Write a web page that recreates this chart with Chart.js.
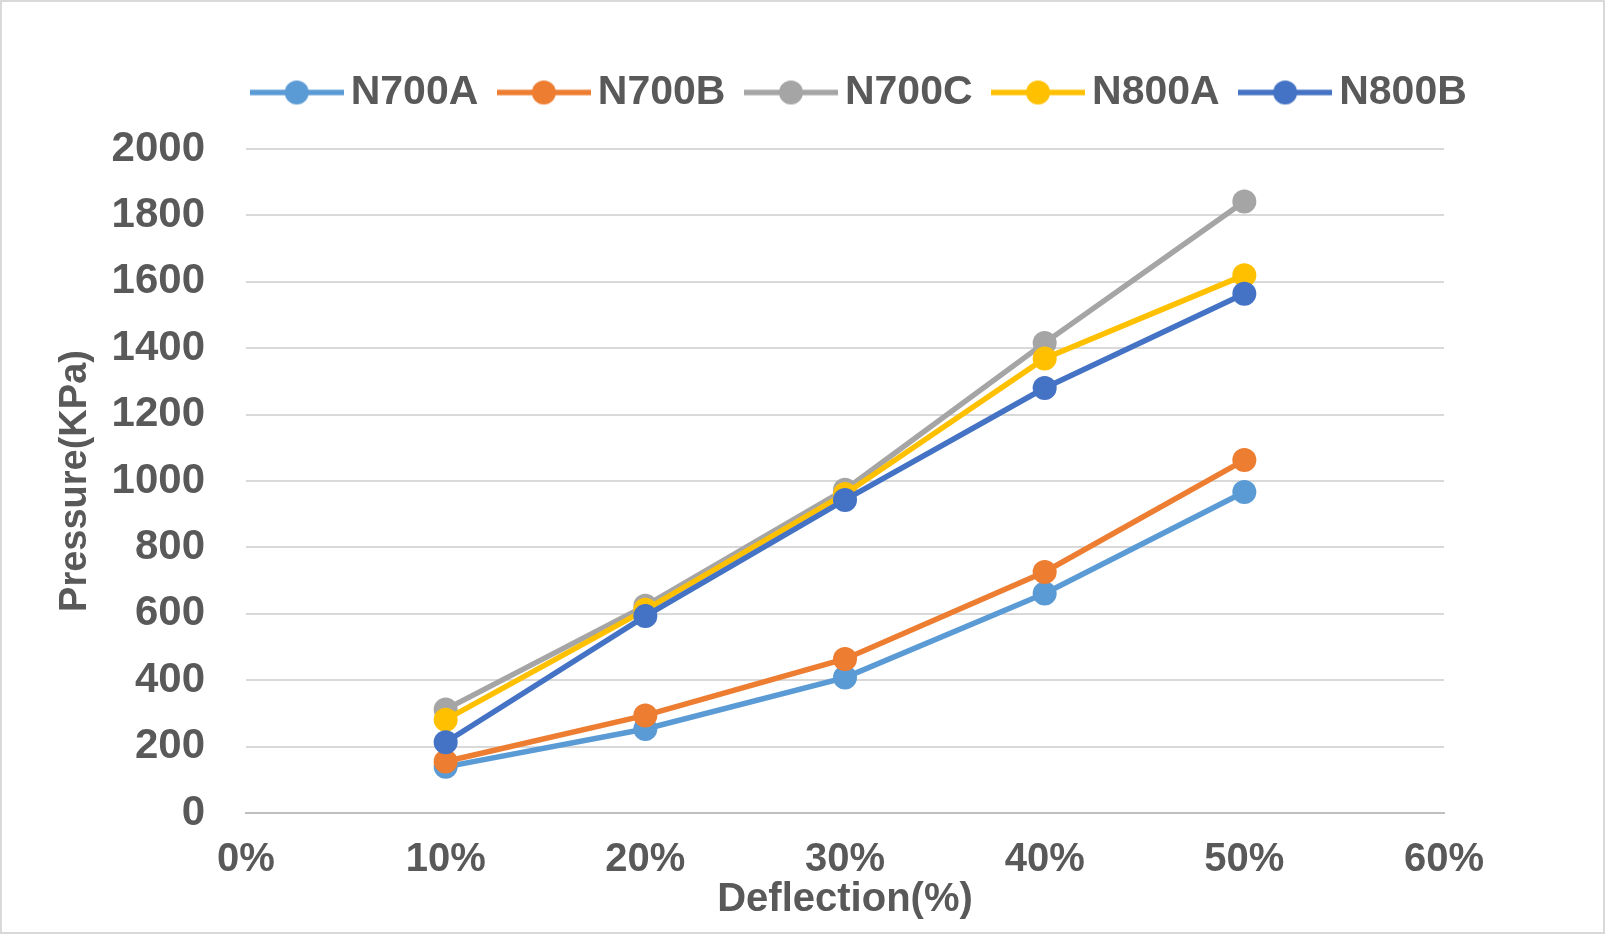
<!DOCTYPE html>
<html>
<head>
<meta charset="utf-8">
<script src="https://cdn.jsdelivr.net/npm/chart.js@4.4.1/dist/chart.umd.min.js"></script>
<style>
  html, body { margin: 0; padding: 0; background: #fff; }
  #wrap { position: relative; width: 1605px; height: 934px; }
  #frame { position: absolute; left: 0; top: 0; right: 0; bottom: 0; border: 2px solid #d9d9d9; pointer-events: none; }
</style>
</head>
<body>
<div id="wrap">
  <canvas id="chart"></canvas>
  <div id="frame"></div>
</div>
<script>
// deflection in %, pressure in KPa
const deflection = [10, 20, 30, 40, 50];
const seriesNames = ['N700A', 'N700B', 'N700C', 'N800A', 'N800B'];
const n700a = [139, 253, 408, 661, 967];
const n700b = [155, 294, 464, 726, 1063];
const n700c = [312, 624, 974, 1416, 1842];
const n800a = [281, 612, 961, 1369, 1620];
const n800b = [213, 593, 943, 1280, 1564];
const colors = ['#5B9BD5', '#ED7D31', '#A5A5A5', '#FFC000', '#4472C4'];

const FONT = '"Liberation Sans", Arial, sans-serif';
const TXT = '#595959';

// legend swatch: line with a dot, like the excel one
function legendMark(color) {
  const c = document.createElement('canvas');
  c.width = 94; c.height = 26;
  const g = c.getContext('2d');
  g.strokeStyle = color;
  g.lineWidth = 5.5;
  g.beginPath(); g.moveTo(0, 13); g.lineTo(94, 13); g.stroke();
  g.fillStyle = color;
  g.beginPath(); g.arc(47, 13, 12, 0, Math.PI * 2); g.fill();
  return c;
}
const marks = colors.map(legendMark);

const allValues = [n700a, n700b, n700c, n800a, n800b];
const datasets = allValues.map((vals, i) => ({
  label: seriesNames[i],
  data: deflection.map((d, k) => ({ x: d, y: vals[k] })),
  borderColor: colors[i],
  backgroundColor: colors[i],
  pointBackgroundColor: colors[i],
  borderWidth: 5.5,
  pointRadius: 12,
  pointBorderWidth: 0,
  tension: 0,
  order: allValues.length - i   // later series on top, as in excel
}));

// push the legend a bit right and leave more room under it
const legendPlace = {
  id: 'legendPlace',
  beforeLayout(chart) {
    const lg = chart.legend;
    if (lg && !lg._patched) {
      const fit = lg.fit;
      lg.fit = function () { fit.call(this); this.height += 26; };
      lg._patched = true;
    }
  },
  afterLayout(chart) {
    chart.legend.left += 143;
    chart.legend.right += 143;
  }
};

const ctx = document.getElementById('chart');

new Chart(ctx, {
  type: 'line',
  data: { datasets: datasets },
  plugins: [legendPlace],
  options: {
    responsive: true,
    maintainAspectRatio: false,
    animation: false,
    layout: {
      padding: { top: 40, left: 0, right: 161, bottom: 0 }
    },
    scales: {
      x: {
        type: 'linear',
        min: 0,
        max: 60,
        afterFit: (scale) => { scale.height = 121; },
        ticks: {
          stepSize: 10,
          padding: 23,
          color: TXT,
          font: { family: FONT, size: 40, weight: 'bold' },
          callback: (v) => v + '%'
        },
        grid: { display: false, drawTicks: false },
        border: { display: true, color: '#bfbfbf', width: 2 },
        title: {
          display: true,
          text: 'Deflection(%)',
          color: TXT,
          font: { family: FONT, size: 40, weight: 'bold' },
          padding: { top: 0, bottom: 10 }
        }
      },
      y: {
        min: 0,
        max: 2000,
        afterFit: (scale) => { scale.width = 246; },
        ticks: {
          stepSize: 200,
          padding: 41,
          color: TXT,
          font: { family: FONT, size: 42, weight: 'bold' },
          callback: (v) => String(v)
        },
        grid: {
          drawTicks: false,
          lineWidth: 2,
          color: (c) => c.tick && c.tick.value === 0 ? '#bfbfbf' : '#d9d9d9'
        },
        border: { display: false },
        title: {
          display: true,
          text: 'Pressure(KPa)',
          color: TXT,
          font: { family: FONT, size: 38, weight: 'bold' },
          padding: { top: 53, bottom: 0 }
        }
      }
    },
    plugins: {
      legend: {
        display: true,
        position: 'top',
        align: 'center',
        labels: {
          usePointStyle: true,
          pointStyleWidth: 67,
          padding: 32,
          color: TXT,
          font: { family: FONT, size: 41, weight: 'bold' },
          sort: (a, b) => a.datasetIndex - b.datasetIndex,
          generateLabels: (chart) => Chart.defaults.plugins.legend.labels.generateLabels(chart)
            .map(l => Object.assign(l, { pointStyle: marks[l.datasetIndex] }))
        }
      },
      tooltip: { enabled: false }
    }
  }
});
</script>
</body>
</html>
